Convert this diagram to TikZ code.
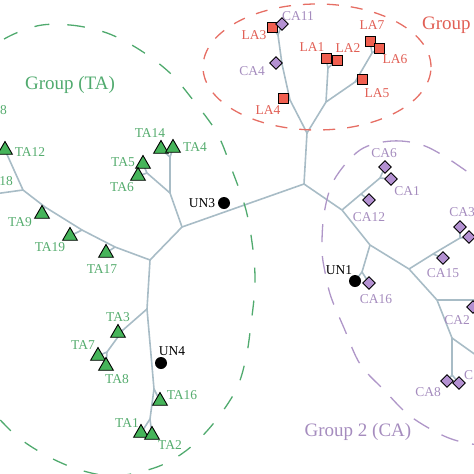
\documentclass[tikz,border=0pt]{standalone}
\usepackage{fontspec}
\setmainfont{Liberation Serif}
\usetikzlibrary{shapes.geometric,backgrounds}
\definecolor{treec}{RGB}{168,188,198}
\definecolor{gline}{RGB}{80,170,110}
\definecolor{gtext}{RGB}{85,172,110}
\definecolor{trifill}{RGB}{70,180,90}
\definecolor{rline}{RGB}{230,110,100}
\definecolor{rtext}{RGB}{225,95,85}
\definecolor{sqfill}{RGB}{240,95,80}
\definecolor{pline}{RGB}{175,150,200}
\definecolor{ptext}{RGB}{165,140,190}
\definecolor{diafill}{RGB}{180,145,210}
\tikzset{
  tri/.style={regular polygon, regular polygon sides=3, draw=black, line width=0.9pt, fill=trifill, minimum size=17pt, inner sep=0pt},
  sq/.style={rectangle, draw=black, line width=0.9pt, fill=sqfill, minimum size=10pt, inner sep=0pt},
  dia/.style={diamond, draw=black, line width=0.9pt, fill=diafill, minimum size=13pt, inner sep=0pt},
  undot/.style={circle, fill=black, minimum width=11pt, minimum height=12pt, inner sep=0pt},
  lbl/.style={font=\fontsize{13.5}{14}\selectfont, inner sep=0pt},
  tal/.style={lbl, text=gtext},
  lal/.style={lbl, text=rtext},
  cal/.style={lbl, text=ptext},
  unl/.style={lbl, text=black},
  grp/.style={font=\fontsize{19}{20}\selectfont, inner sep=0pt},
  edge/.style={draw=treec, line width=1.6pt, line join=round},
  gdash/.style={draw=gline, line width=1.3pt, dash pattern=on 15pt off 18pt},
  rdash/.style={draw=rline, line width=1.3pt, dash pattern=on 12pt off 12pt},
  pdash/.style={draw=pline, line width=1.3pt, dash pattern=on 18pt off 14pt},
}
\begin{document}
\begin{tikzpicture}[x=1pt,y=-1pt]
\useasboundingbox (0,0) rectangle (474,474);
\clip (0,0) rectangle (474,474);

% internal coordinates
\coordinate (R) at (304,184);
\coordinate (L0) at (307,133);
\coordinate (L1) at (290,100);
\coordinate (L2) at (282,64);
\coordinate (L3) at (278,35);
\coordinate (L4) at (326,102);
\coordinate (L5) at (328,68);
\coordinate (L6) at (355,82);
\coordinate (L7) at (372,53);
\coordinate (C1) at (342,210);
\coordinate (C2) at (370,245);
\coordinate (C3) at (409,269);
\coordinate (C4) at (437,300);
\coordinate (C5) at (452,338);
\coordinate (C6) at (452,375);
\coordinate (C7) at (380,178);
\coordinate (C8) at (361,194);
\coordinate (C9) at (362,272);
\coordinate (C10) at (460,238);
\coordinate (C11) at (433,254);
\coordinate (Cend1) at (480,300);
\coordinate (Cend2) at (480,358);
\coordinate (J1) at (182,227);
\coordinate (J2) at (170,193);
\coordinate (J6) at (170,157);
\coordinate (J7) at (147,173);
\coordinate (J3) at (150,260);
\coordinate (K1) at (115,247);
\coordinate (K2) at (82,230);
\coordinate (K3) at (45,207);
\coordinate (J4) at (23,190);
\coordinate (Jend) at (-6,194);
\coordinate (J5) at (147,309);
\coordinate (J8) at (123,330);
\coordinate (J9) at (107,352);
\coordinate (J10) at (154,389);
\coordinate (J11) at (150,419);

% group outlines
\draw[gdash] plot[smooth cycle, tension=0.55] coordinates {
 (33,27) (70,25) (107,33) (140,50) (170,73) (193,100) (217,133) (232,170)
 (246,210) (253,250) (255,285) (251,324) (246,358) (236,390) (213,424)
 (187,450) (157,467) (115,476) (77,469) (40,452) (8,428) (-30,380)
 (-55,300) (-60,200) (-45,110) (-10,50)};
\draw[rdash] (317,67) ellipse [x radius=114pt, y radius=63pt];
\draw[pdash] plot[smooth cycle, tension=0.55] coordinates {
 (360,150) (392,141) (425,146) (462,168) (495,195) (530,250) (550,330)
 (535,420) (505,446) (472,444) (444,436) (410,416) (384,390) (360,364)
 (344,328) (331,297) (325,272) (322,250) (324,214) (334,180)};

% TA leaves
\node[tri] (TA12) at (5,150) {};
\node[tri] (TA14) at (161,149) {};
\node[tri] (TA4) at (173,148) {};
\node[tri] (TA5) at (143,164) {};
\node[tri] (TA6) at (138,176) {};
\node[tri] (TA9) at (42,214) {};
\node[tri] (TA19) at (70,236) {};
\node[tri] (TA17) at (106,253) {};
\node[tri] (TA3) at (118,333) {};
\node[tri] (TA7) at (98,356) {};
\node[tri] (TA8) at (106,366) {};
\node[tri] (TA16) at (160,401) {};
\node[tri] (TA1) at (141,433) {};
\node[tri] (TA2) at (152,435) {};

% UN
\node[undot] (UN3) at (224,203) {};
\node[undot] (UN4) at (161,363) {};
\node[undot] (UN1) at (355,281) {};

% LA leaves
\node[sq] (LA3) at (272,27) {};
\node[dia] (CA11) at (282,24) {};
\node[dia] (CA4) at (276,63) {};
\node[sq] (LA4) at (283,98) {};
\node[sq] (LA1) at (326,58) {};
\node[sq] (LA2) at (337,60) {};
\node[sq] (LA7) at (370,41) {};
\node[sq] (LA6) at (379,48) {};
\node[sq] (LA5) at (362,79) {};

% CA leaves
\node[dia] (CA6) at (385,167) {};
\node[dia] (CA1) at (391,179) {};
\node[dia] (CA12) at (369,200) {};
\node[dia] (CA16) at (369,283) {};
\node[dia] (CA15) at (443,258) {};
\node[dia] (CA3a) at (460,227) {};
\node[dia] (CA3b) at (469,237) {};
\node[dia] (CA2) at (473,307) {};
\node[dia] (CA8) at (447,381) {};
\node[dia] (CA8b) at (459,383) {};

% edges
\begin{scope}[on background layer]
\clip (0,0) rectangle (474,474);
\draw[edge] (R) -- (L0) -- (L1) -- (L2) -- (L3);
\draw[edge] (L3) -- (LA3.center);
\draw[edge] (L3) -- (CA11.center);
\draw[edge] (L1) -- (LA4.center);
\draw[edge] (L2) -- (CA4.center);
\draw[edge] (L0) -- (L4) -- (L5);
\draw[edge] (L5) -- (LA1.center);
\draw[edge] (L5) -- (LA2.center);
\draw[edge] (L4) -- (L6) -- (L7);
\draw[edge] (L6) -- (LA5.center);
\draw[edge] (L7) -- (LA7.center);
\draw[edge] (L7) -- (LA6.center);
\draw[edge] (R) -- (C1) -- (C2) -- (C3) -- (C4) -- (C5) -- (C6);
\draw[edge] (C6) -- (CA8.center);
\draw[edge] (C6) -- (CA8b.center);
\draw[edge] (C5) -- (Cend2);
\draw[edge] (C4) -- (Cend1);
\draw[edge] (C1) -- (C8) -- (C7);
\draw[edge] (C8) -- (CA12.center);
\draw[edge] (C7) -- (CA6.center);
\draw[edge] (C7) -- (CA1.center);
\draw[edge] (C2) -- (C9);
\draw[edge] (C9) -- (UN1.center);
\draw[edge] (C9) -- (CA16.center);
\draw[edge] (C3) -- (C11) -- (C10);
\draw[edge] (C11) -- (CA15.center);
\draw[edge] (C10) -- (CA3a.center);
\draw[edge] (C10) -- (CA3b.center);
\draw[edge] (R) -- (J1);
\draw[edge] (J1) -- (J2) -- (J6);
\draw[edge] (J6) -- (TA14.center);
\draw[edge] (J6) -- (TA4.center);
\draw[edge] (J2) -- (J7);
\draw[edge] (J7) -- (TA5.center);
\draw[edge] (J7) -- (TA6.center);
\draw[edge] (J1) -- (J3) -- (K1) -- (K2) -- (K3) -- (J4);
\draw[edge] (J4) -- (Jend);
\draw[edge] (J4) -- (TA12.center);
\draw[edge] (K1) -- (TA17.center);
\draw[edge] (K2) -- (TA19.center);
\draw[edge] (K3) -- (TA9.center);
\draw[edge] (J3) -- (J5) -- (J8) -- (J9);
\draw[edge] (J8) -- (TA3.center);
\draw[edge] (J9) -- (TA7.center);
\draw[edge] (J9) -- (TA8.center);
\draw[edge] (J5) -- (J10) -- (J11);
\draw[edge] (J10) -- (TA16.center);
\draw[edge] (J11) -- (TA1.center);
\draw[edge] (J11) -- (TA2.center);
\end{scope}

% labels TA
\node[tal] (lTA12) at (30,152) {TA12};
\node[tal, anchor=east] (lTA18) at (13,181) {18};
\node[tal, anchor=west] (lTA13) at (0,110) {8};
\node[tal] (lTA14) at (150,133) {TA14};
\node[tal] (lTA4) at (195,147) {TA4};
\node[tal] (lTA5) at (123,162) {TA5};
\node[tal] (lTA6) at (122,187) {TA6};
\node[tal] (lTA9) at (20,222) {TA9};
\node[tal] (lTA19) at (50,247) {TA19};
\node[tal] (lTA17) at (102,269) {TA17};
\node[tal] (lTA3) at (118,317) {TA3};
\node[tal] (lTA7) at (83,345) {TA7};
\node[tal] (lTA8) at (117,379) {TA8};
\node[tal] (lTA16) at (182,395) {TA16};
\node[tal] (lTA1) at (127,423) {TA1};
\node[tal] (lTA2) at (170,445) {TA2};
% UN labels
\node[unl] (lUN3) at (202,203) {UN3};
\node[unl] (lUN4) at (172,351) {UN4};
\node[unl] (lUN1) at (339,270) {UN1};
% LA labels
\node[lal] (lLA3) at (254,35) {LA3};
\node[cal] (lCA11) at (298,16) {CA11};
\node[cal] (lCA4) at (252,71) {CA4};
\node[lal] (lLA4) at (268,110) {LA4};
\node[lal] (lLA1) at (312,47) {LA1};
\node[lal] (lLA2) at (348,48) {LA2};
\node[lal] (lLA7) at (372,25) {LA7};
\node[lal] (lLA6) at (395,59) {LA6};
\node[lal] (lLA5) at (377,93) {LA5};
% CA labels
\node[cal] (lCA6) at (384,153) {CA6};
\node[cal] (lCA1) at (407,191) {CA1};
\node[cal] (lCA12) at (369,217) {CA12};
\node[cal] (lCA16) at (376,299) {CA16};
\node[cal] (lCA15) at (443,273) {CA15};
\node[cal] (lCA3) at (462,212) {CA3};
\node[cal] (lCA2) at (457,320) {CA2};
\node[cal] (lCA8) at (428,392) {CA8};
\node[cal, anchor=west] (lCA7) at (464,375) {C};
% group labels
\node[grp, text=gline] (gTA) at (70,85) {Group (TA)};
\node[grp, text=rtext, anchor=west] (gLA) at (422,25) {Group};
\node[grp, text=ptext] (gCA) at (358,432) {Group 2 (CA)};
\end{tikzpicture}
\end{document}
